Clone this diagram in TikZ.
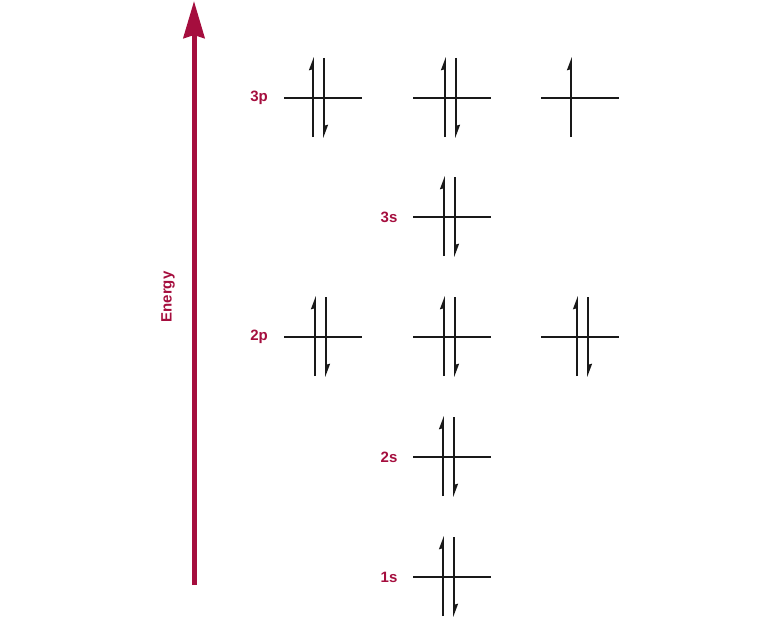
\documentclass[tikz,border=0pt]{standalone}
\usepackage{fontspec}
\setmainfont{Liberation Sans}
\usetikzlibrary{arrows.meta}
\definecolor{crim}{RGB}{165,14,62}
\tikzset{
  lvl/.style={line width=1.6pt, black!90},
  spinup/.style={line width=1.6pt, black!90, -{Stealth[left,length=11pt,width=8pt,inset=1pt]}},
  spindn/.style={line width=1.6pt, black!90, -{Stealth[left,length=11pt,width=8pt,inset=1pt]}},
  lab/.style={font=\bfseries\fontsize{15}{18}\selectfont, text=crim, inner sep=0pt},
  energy/.style={line width=5pt, crim, -{Stealth[length=37pt,width=21pt,inset=3pt]}}
}
\begin{document}
\begin{tikzpicture}[x=1pt,y=-1pt]
\useasboundingbox (0,0) rectangle (768,618);
% energy axis
\coordinate (eb) at (194,585);
\coordinate (et) at (194,1);
\draw[energy] (eb) -- (et);
\node[lab, rotate=90] (elab) at (168,297) {Energy};
% labels
\node[lab] (l3p) at (259,98) {3p};
\node[lab] (l3s) at (389,217) {3s};
\node[lab] (l2p) at (259,337) {2p};
\node[lab] (l2s) at (389,457) {2s};
\node[lab] (l1s) at (389,577) {1s};
% levels: name, x-left, x-right, y
\foreach \n/\xl/\xr/\y in {a/284/362/98, b/413/491/98, c/541/619/98,
  d/413/491/217, e/284/362/337, f/413/491/337, g/541/619/337,
  h/413/491/457, i/413/491/577}{
  \coordinate (\n L) at (\xl,\y);
  \coordinate (\n R) at (\xr,\y);
  \draw[lvl] (\n L) -- (\n R);
}
% electrons: name, up x, y
\foreach \n/\xu/\y in {a/313/98, b/445/98, c/571/98, d/444/217,
  e/315/337, f/444/337, g/577/337, h/443/457, i/443/577}{
  \coordinate (\n ub) at (\xu,\y+39);
  \coordinate (\n ut) at (\xu,\y-41);
  \draw[spinup] (\n ub) -- (\n ut);
}
\foreach \n/\xd/\y in {a/324/98, b/456/98, d/455/217,
  e/326/337, f/455/337, g/588/337, h/454/457, i/454/577}{
  \coordinate (\n dt) at (\xd,\y-40);
  \coordinate (\n db) at (\xd,\y+40);
  \draw[spindn] (\n dt) -- (\n db);
}
\end{tikzpicture}
\end{document}
